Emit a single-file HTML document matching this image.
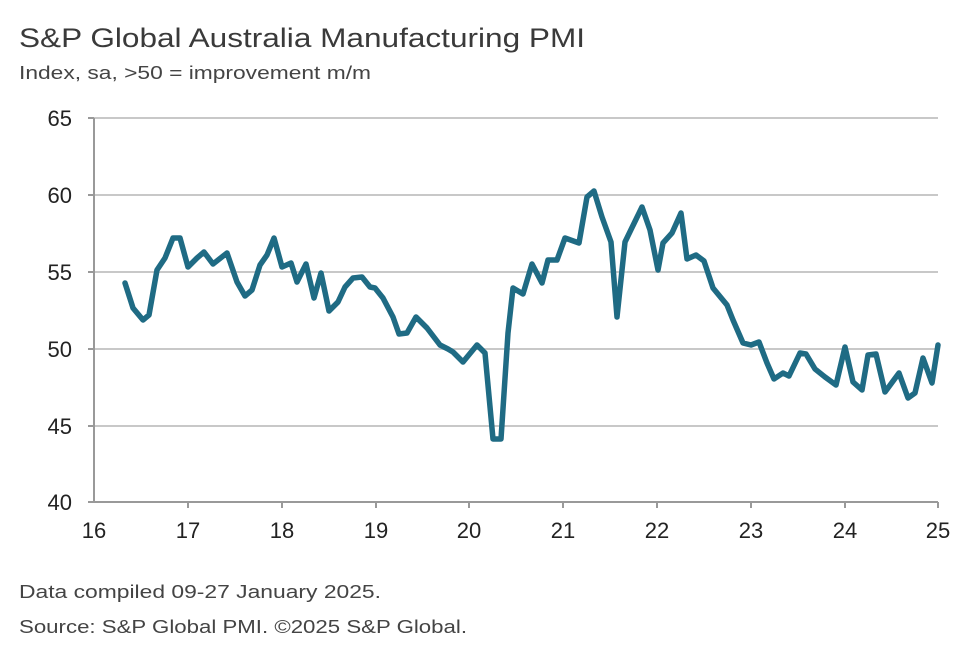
<!DOCTYPE html>
<html><head><meta charset="utf-8"><style>
body{margin:0;background:#fff;width:975px;height:653px;overflow:hidden;font-family:"Liberation Sans",sans-serif}
</style></head><body>
<svg width="975" height="653" viewBox="0 0 975 653" xmlns="http://www.w3.org/2000/svg" font-family="Liberation Sans, sans-serif">
<text x="19" y="47" font-size="27" fill="#3a3a3a" textLength="566" lengthAdjust="spacingAndGlyphs">S&amp;P Global Australia Manufacturing PMI</text>
<text x="19" y="79" font-size="18" fill="#444" textLength="352" lengthAdjust="spacingAndGlyphs">Index, sa, &gt;50 = improvement m/m</text>
<g stroke="#c8c8c8" stroke-width="2">
<line x1="94" y1="118" x2="938" y2="118"/>
<line x1="94" y1="195" x2="938" y2="195"/>
<line x1="94" y1="272" x2="938" y2="272"/>
<line x1="94" y1="349" x2="938" y2="349"/>
<line x1="94" y1="426" x2="938" y2="426"/>
</g>
<g stroke="#999" stroke-width="2">
<line x1="94" y1="118" x2="94" y2="503"/>
<line x1="94" y1="502" x2="938" y2="502"/>
<line x1="88" y1="118" x2="94" y2="118"/><line x1="88" y1="195" x2="94" y2="195"/><line x1="88" y1="272" x2="94" y2="272"/><line x1="88" y1="349" x2="94" y2="349"/><line x1="88" y1="426" x2="94" y2="426"/><line x1="88" y1="502" x2="94" y2="502"/>
<line x1="188" y1="502" x2="188" y2="508"/><line x1="282" y1="502" x2="282" y2="508"/><line x1="376" y1="502" x2="376" y2="508"/><line x1="469" y1="502" x2="469" y2="508"/><line x1="563" y1="502" x2="563" y2="508"/><line x1="657" y1="502" x2="657" y2="508"/><line x1="751" y1="502" x2="751" y2="508"/><line x1="845" y1="502" x2="845" y2="508"/><line x1="938" y1="502" x2="938" y2="508"/>
</g>
<g font-size="22" fill="#222" text-anchor="end">
<text x="72" y="126">65</text><text x="72" y="203">60</text><text x="72" y="280">55</text><text x="72" y="357">50</text><text x="72" y="434">45</text><text x="72" y="510">40</text>
</g>
<g font-size="22" fill="#222" text-anchor="middle">
<text x="94" y="538">16</text><text x="188" y="538">17</text><text x="282" y="538">18</text><text x="376" y="538">19</text><text x="469" y="538">20</text><text x="563" y="538">21</text><text x="657" y="538">22</text><text x="751" y="538">23</text><text x="845" y="538">24</text><text x="938" y="538">25</text>
</g>
<polyline fill="none" stroke="#1f6b84" stroke-width="5.5" stroke-linejoin="round" stroke-linecap="round" points="125,283 133,308 143,320 149,315 157,270 165,258 173,238 180,238 188,267 197,258 204,252 213,264 227,253 237,282 245,296 252,290 260,265 267,255 274,238 282,267 291,263 297,282 306,264 314,298 321,273 329,311 338,302 345,287 353,278 362,277 370,287 375,288 383,298 393,317 399,334 407,333 416,317 427,328 440,345 448,349 453,352 463,362 477,345 485,353 493,439 501,439 508,333 513,288 523,294 532,264 542,283 548,260 557,260 565,238 579,243 587,197 594,191 602,217 611,242 617,317 625,242 642,207 650,230 658,270 663,243 672,233 681,213 687,259 696,255 704,261 713,288 727,305 733,320 743,343 751,345 759,342 767,363 774,379 783,373 789,376 800,353 806,354 815,369 825,377 836,385 845,347 853,382 862,390 868,355 876,354 885,392 899,373 908,398 915,393 923,358 932,383 938,345"/>
<text x="19" y="598" font-size="18" fill="#444" textLength="362" lengthAdjust="spacingAndGlyphs">Data compiled 09-27 January 2025.</text>
<text x="19" y="633" font-size="18" fill="#444" textLength="448" lengthAdjust="spacingAndGlyphs">Source: S&amp;P Global PMI. ©2025 S&amp;P Global.</text>
</svg>
</body></html>
